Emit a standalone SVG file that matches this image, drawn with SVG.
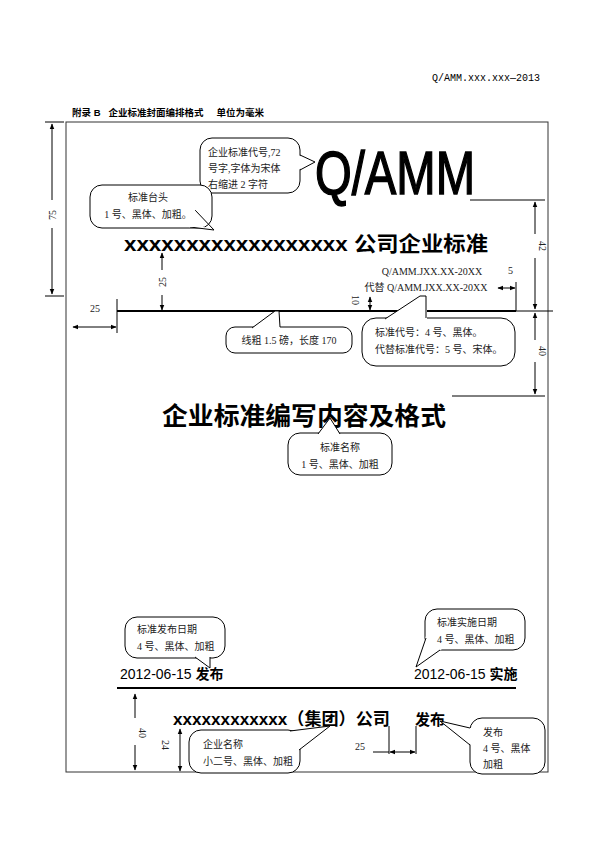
<svg xmlns="http://www.w3.org/2000/svg" width="600" height="848" viewBox="0 0 600 848">
<style>
.s{font-family:"Liberation Serif","Noto Sans CJK SC",serif;font-size:10px;fill:#222}
.h{font-family:"Liberation Sans","Noto Sans CJK SC",sans-serif;font-weight:bold;fill:#000}
.b{fill:#fff;stroke:#000;stroke-width:1}
.d{stroke:#000;stroke-width:1;fill:none}
.t{stroke:#000;stroke-width:2;fill:none}
.w{fill:#fff;stroke:none}
</style>
<defs>
<marker id="a" viewBox="0 0 10 10" refX="9" refY="5" markerWidth="6" markerHeight="6" orient="auto-start-reverse"><path d="M0,1 L10,5 L0,9 Z" fill="#000"/></marker>
</defs>
<rect width="600" height="848" fill="#fff"/>
<text x="540" y="81" text-anchor="end" style="font-family:'Liberation Mono',monospace;font-size:10px">Q/AMM.xxx.xxx—2013</text>
<text x="72" y="116" class="h" style="font-size:9.5px" xml:space="preserve">附录 B   企业标准封面编排格式     单位为毫米</text>
<rect x="66" y="122" width="482" height="650" fill="none" stroke="#333" stroke-width="1"/>

<g id="connectors">
<line x1="45" y1="122" x2="64" y2="122" class="d"/><line x1="45" y1="296" x2="64" y2="296" class="d"/>
<line x1="52" y1="124" x2="52" y2="200" class="d" marker-start="url(#a)"/><line x1="52" y1="228" x2="52" y2="294" class="d" marker-end="url(#a)"/>
<line x1="117" y1="299" x2="117" y2="333" class="d"/>
<line x1="73" y1="327" x2="116" y2="327" class="d" marker-start="url(#a)" marker-end="url(#a)"/>
<line x1="117" y1="311" x2="516" y2="311" class="t"/>
<line x1="516" y1="311" x2="553" y2="311" class="d"/>
<line x1="516" y1="282" x2="516" y2="311" class="d"/>
<line x1="162" y1="253" x2="162" y2="270" class="d" marker-start="url(#a)"/><line x1="162" y1="295" x2="162" y2="310" class="d" marker-end="url(#a)"/>
<line x1="470" y1="200" x2="545" y2="200" class="d"/>
<line x1="535" y1="202" x2="535" y2="234" class="d" marker-start="url(#a)"/><line x1="535" y1="258" x2="535" y2="309" class="d" marker-end="url(#a)"/>
<line x1="535" y1="313" x2="535" y2="340" class="d" marker-start="url(#a)"/><line x1="535" y1="362" x2="535" y2="394" class="d" marker-end="url(#a)"/>
<line x1="452" y1="396" x2="545" y2="396" class="d"/>
<line x1="498" y1="288" x2="515" y2="288" class="d" marker-start="url(#a)" marker-end="url(#a)"/>
<line x1="370" y1="297" x2="370" y2="310" class="d" marker-start="url(#a)" marker-end="url(#a)"/>
<line x1="117" y1="688" x2="516" y2="688" class="t"/>
<line x1="135" y1="694" x2="135" y2="718" class="d" marker-start="url(#a)"/><line x1="135" y1="745" x2="135" y2="770" class="d" marker-end="url(#a)"/>
<line x1="180" y1="729" x2="180" y2="771" class="d" marker-start="url(#a)" marker-end="url(#a)"/>
<line x1="389" y1="726" x2="389" y2="754" class="d"/><line x1="416" y1="726" x2="416" y2="754" class="d"/>
<line x1="373" y1="752" x2="389" y2="752" class="d"/>
<line x1="390" y1="752" x2="415" y2="752" class="d" marker-start="url(#a)" marker-end="url(#a)"/>
</g>
<g class="s">
<text x="56" y="215" transform="rotate(-90 56 215)" text-anchor="middle">75</text>
<text x="90" y="312">25</text>
<text x="166" y="282" transform="rotate(-90 166 282)" text-anchor="middle">25</text>
<text x="539" y="246" transform="rotate(90 539 246)" text-anchor="middle">42</text>
<text x="539" y="351" transform="rotate(90 539 351)" text-anchor="middle">40</text>
<text x="508" y="274">5</text>
<text x="352" y="300" transform="rotate(90 352 300)" text-anchor="middle">10</text>
<text x="139" y="733" transform="rotate(90 139 733)" text-anchor="middle">40</text>
<text x="162" y="745" transform="rotate(90 162 745)" text-anchor="middle">24</text>
<text x="355" y="750">25</text>
</g>

<g id="code"><text x="315" y="194" class="h" style="font-size:62px;font-weight:normal;stroke:#000;stroke-width:1.5" textLength="160" lengthAdjust="spacingAndGlyphs">Q/AMM</text></g>
<g id="header"><text x="124" y="251" class="h" style="font-size:21px" textLength="364" lengthAdjust="spacingAndGlyphs">xxxxxxxxxxxxxxxxxx 公司企业标准</text></g>
<g id="stdno" class="s">
<text x="432" y="275" text-anchor="middle">Q/AMM.JXX.XX-20XX</text>
<text x="426" y="291" text-anchor="middle">代替 Q/AMM.JXX.XX-20XX</text>
</g>
<g id="title"><text x="162" y="425" class="h" style="font-size:25px" textLength="284" lengthAdjust="spacingAndGlyphs">企业标准编写内容及格式</text></g>
<g id="dates" class="h" style="font-size:14px">
<text x="120" y="679" style="font-weight:normal">2012-06-15 <tspan style="font-weight:bold">发布</tspan></text>
<text x="414" y="679" style="font-weight:normal">2012-06-15 <tspan style="font-weight:bold">实施</tspan></text>
</g>
<g id="company" class="h" style="font-size:17px">
<text x="173" y="725" textLength="217" lengthAdjust="spacingAndGlyphs">xxxxxxxxxxxx（集团）公司</text>
<text x="415" y="725" style="font-size:15px">发布</text>
</g>

<g id="c1">
<rect x="200" y="138" width="100" height="55" rx="12" class="b"/>
<polygon points="298,155 315,162 298,170" class="w"/><polyline points="300,155 315,162 300,170" class="d"/>
<g class="s"><text x="208" y="156">企业标准代号,72</text><text x="208" y="172">号字,字体为宋体</text><text x="208" y="188">右缩进 2 字符</text></g>
</g>
<g id="c2">
<rect x="90" y="185" width="122" height="43" rx="12" class="b"/>
<polygon points="180,226 214,230 200,226" class="w"/><polyline points="190,227 214,230 195,210" class="d"/>
<polygon points="185,212 188,227 200,227 195,210" class="w"/>
<g class="s" text-anchor="middle"><text x="148" y="201">标准台头</text><text x="148" y="218">1 号、黑体、加粗。</text></g>
</g>
<g id="c3">
<rect x="226" y="327" width="126" height="26" rx="9" class="b"/>
<polygon points="252,328 275,311 279,311 280,328" class="w"/><polyline points="252,328 275,311 279,311 280,327" class="d"/>
<text x="289" y="344" class="s" text-anchor="middle">线粗 1.5 磅，长度 170</text>
</g>
<g id="c4">
<rect x="362" y="318" width="153" height="48" rx="14" class="b"/>
<polygon points="385,319 420,296 427,296 427,319" class="w"/><polyline points="385,319 420,296 426,296 426,318" class="d"/>
<g class="s"><text x="375" y="336">标准代号：4 号、黑体。</text><text x="375" y="353">代替标准代号：5 号、宋体。</text></g>
</g>
<g id="c5">
<rect x="288" y="433" width="104" height="42" rx="12" class="b"/>
<polygon points="318,434 330,418 340,434" class="w"/><polyline points="318,434 330,418 340,434" class="d"/>
<g class="s" text-anchor="middle"><text x="340" y="451">标准名称</text><text x="340" y="468">1 号、黑体、加粗</text></g>
</g>
<g id="c6">
<rect x="125" y="617" width="100" height="41" rx="12" class="b"/>
<polygon points="195,657 210,668 210,657" class="w"/><polyline points="195,657 210,668 210,657" class="d"/>
<g class="s"><text x="137" y="633">标准发布日期</text><text x="137" y="650">4 号、黑体、加粗</text></g>
</g>
<g id="c7">
<rect x="425" y="609" width="100" height="41" rx="12" class="b"/>
<polygon points="426,636 416,667 442,649" class="w"/><polyline points="426,638 416,667 440,650" class="d"/>
<g class="s"><text x="437" y="626">标准实施日期</text><text x="437" y="643">4 号、黑体、加粗</text></g>
</g>
<g id="c8">
<rect x="189" y="730" width="111" height="43" rx="12" class="b"/>
<polygon points="290,731 330,726 299,750" class="w"/><polyline points="290,731 330,726 299,750" class="d"/>
<g class="s"><text x="203" y="748">企业名称</text><text x="203" y="765">小二号、黑体、加粗</text></g>
</g>
<g id="c9">
<rect x="470" y="718" width="75" height="56" rx="12" class="b"/>
<polygon points="471,728 440,721 471,745" class="w"/><polyline points="470,728 440,721 470,745" class="d"/>
<g class="s"><text x="483" y="736">发布</text><text x="483" y="752">4 号、黑体</text><text x="483" y="768">加粗</text></g>
</g>
</svg>
